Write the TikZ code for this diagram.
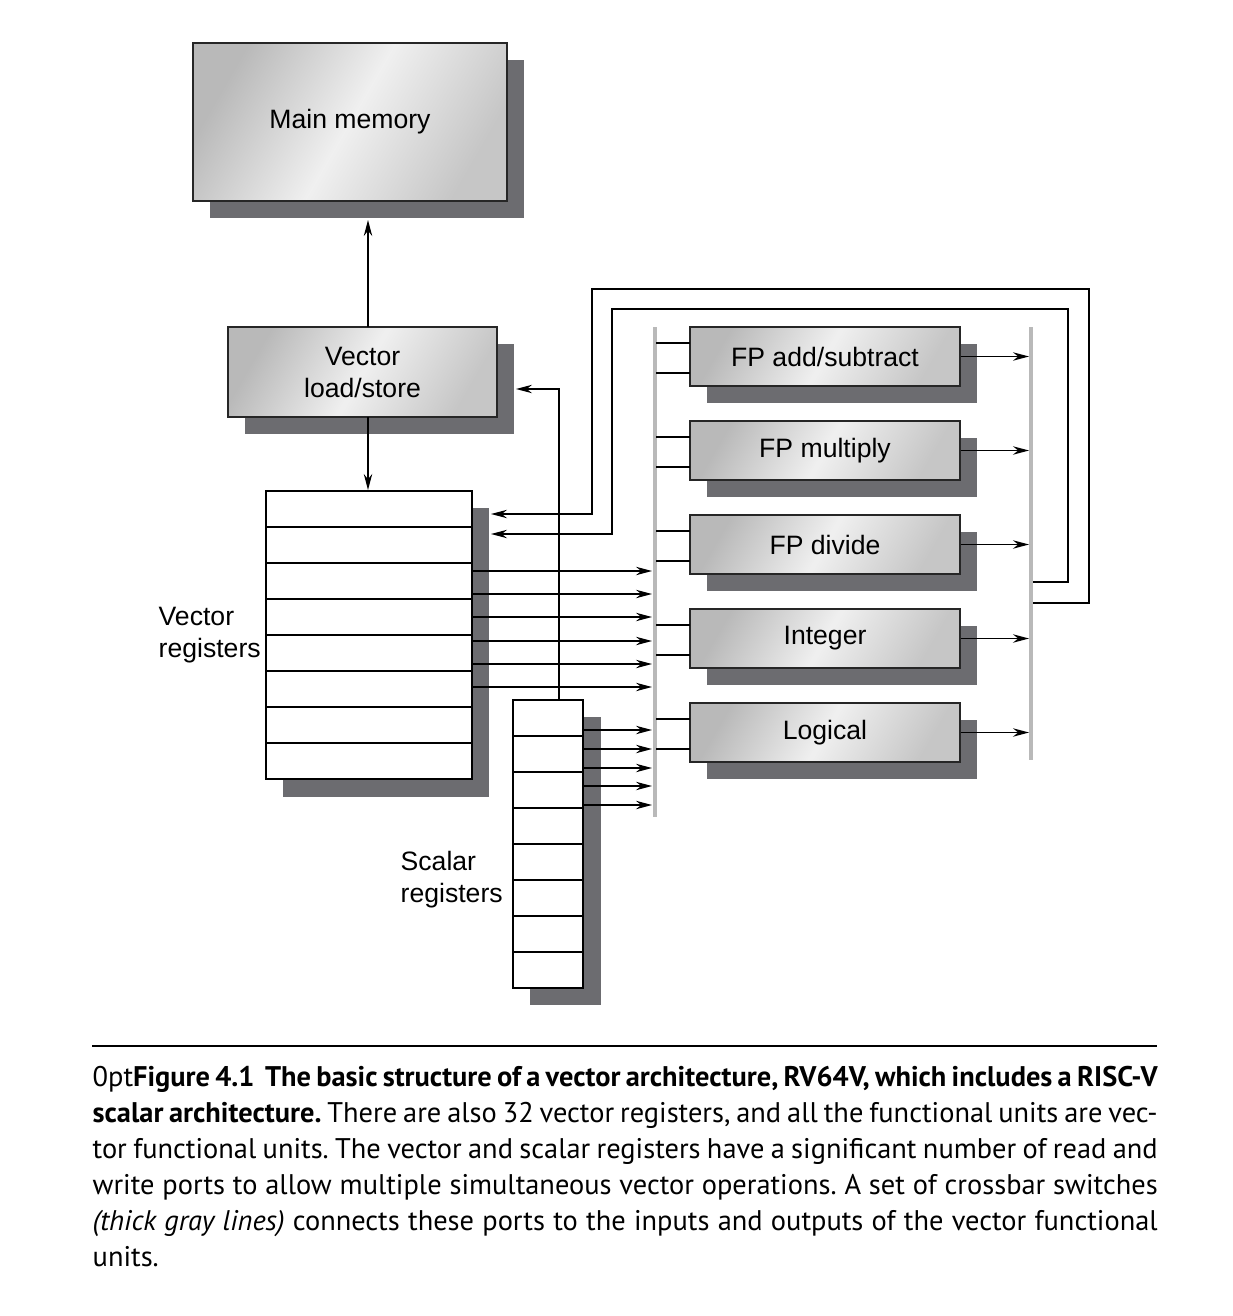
\documentclass[tikz,border=0pt]{standalone}
\usepackage{fontspec}
\setmainfont{Liberation Sans}
\newfontfamily\capfont{PT Sans}
\usetikzlibrary{arrows.meta,shadows}
\definecolor{shadowgray}{RGB}{108,108,112}
\begin{document}
\begin{tikzpicture}[x=0.5pt,y=-0.5pt,
  line width=0.7pt,
  >={Stealth[length=8pt,width=4.2pt]},
  box/.style={draw=black!85, line width=0.8pt, left color=gray!55, right color=gray!45, middle color=gray!12,
     shading angle=60, font=\fontsize{13.3}{16}\selectfont, align=center, inner sep=0pt,
     drop shadow={shadow xshift=8.5pt, shadow yshift=-8.5pt, fill=shadowgray, opacity=1}},
  fu/.style={box, minimum width=135pt, minimum height=29.5pt},
  bar/.style={line width=2.2pt, draw=gray!55},
  lbl/.style={font=\fontsize{13.3}{16}\selectfont, align=left, inner sep=0pt}]
\useasboundingbox (0,0) rectangle (1232,1316);

% main memory and load/store
\node[box, minimum width=157pt, minimum height=79pt] (mm) at (350,122) {Main memory};
\node[box, minimum width=134.5pt, minimum height=45pt] (ls) at (362.5,372) {Vector\\load/store};
\coordinate (mmb) at (368,220);
\draw[->] (368,327) -- (mmb);

% vector registers
\fill[shadowgray] (283,508) rectangle (489,797);
\draw[fill=white] (266,491) rectangle (472,779);
\foreach \y in {527,563,599,635,671,707,743} \draw (266,\y) -- (472,\y);
\draw[->] (368,417) -- (368,490);
\node[lbl, anchor=west] (vrl) at (158,635) {Vector\\registers};

% scalar registers
\fill[shadowgray] (530,717) rectangle (601,1005);
\draw[fill=white] (513,700) rectangle (583,988);
\foreach \y in {736,772,808,844,880,916,952} \draw (513,\y) -- (583,\y);
\node[lbl, anchor=west] (srl) at (400,880) {Scalar\\registers};
\draw[->] (559,700) -- (559,389) -- (516,389);

% crossbars
\draw[bar] (655,327) -- (655,817);
\draw[bar] (1031,327) -- (1031,760);

% functional units
\foreach \n/\t [count=\i from 0] in {fa/FP add\slash subtract,fm/FP multiply,fd/FP divide,in/Integer,lo/Logical}{
  \node[fu] (\n) at (825,{356.5+94*\i}) {\t};
  \draw (656,{343+94*\i}) -- (690,{343+94*\i});
  \draw (656,{373+94*\i}) -- (690,{373+94*\i});
  \draw[->] (\n.east) -- (1029,{356.5+94*\i});
}

% vector reads
\foreach \y in {571,594,617,641,664,687} \draw[->] (472,\y) -- (652,\y);
% scalar reads
\foreach \y in {730,749,768,786,805} \draw[->] (583,\y) -- (652,\y);

% write back
\draw[->] (1033,603) -- (1089,603) -- (1089,289) -- (592,289) -- (592,514) -- (491,514);
\draw[->] (1033,582) -- (1068,582) -- (1068,309) -- (612,309) -- (612,534) -- (491,534);

% caption
\draw[line width=0.8pt] (92,1046) -- (1157,1046);
\node[anchor=north west, inner sep=0pt, text width=532.5pt, align=justify,
  font=\capfont\fontsize{14.2}{18}\selectfont\frenchspacing\hyphenpenalty=10000] (cap) at (92,1066)
  {\textbf{Figure 4.1\ \ The basic structure of a vector architecture, RV64V, which includes a RISC-V scalar architecture.} There are also 32 vector registers, and all the functional units are vector functional units. The vector and scalar registers have a significant number of read and write ports to allow multiple simultaneous vector operations. A set of crossbar switches \textit{(thick gray lines)} connects these ports to the inputs and outputs of the vector functional units.};
\end{tikzpicture}
\end{document}
